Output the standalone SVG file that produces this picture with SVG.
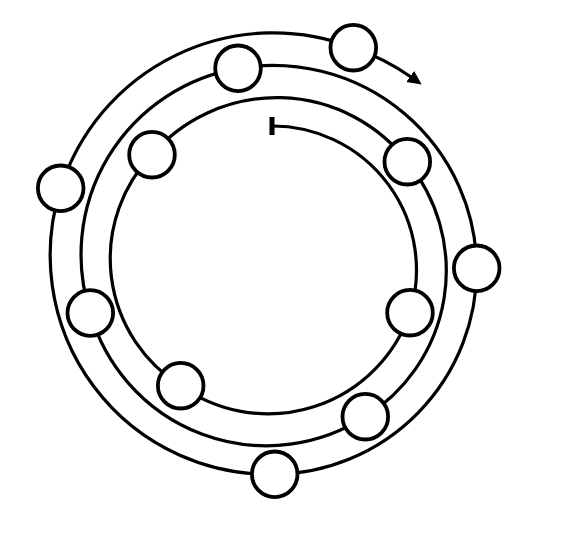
<svg xmlns="http://www.w3.org/2000/svg" width="576" height="541" viewBox="0 0 576 541">
<defs>
<marker id="bar" markerUnits="userSpaceOnUse" viewBox="-6 -12 12 24" markerWidth="12" markerHeight="24" refX="0" refY="0" orient="auto"><rect x="-2.5" y="-9" width="5" height="18" fill="#000"/></marker>
<marker id="arrow" markerUnits="userSpaceOnUse" viewBox="0 -8 16 16" markerWidth="16" markerHeight="16" refX="1" refY="0" orient="auto"><path d="M0,-6.8 L14,0 L0,6.8 Z" fill="#000"/></marker>
<style>
.ring{fill:none;stroke:#000;stroke-width:3.2}
.node circle{fill:#fff;stroke:#000;stroke-width:3.8}
</style>
</defs>
<rect width="576" height="541" fill="#fff"/>
<g id="connectors">
<path class="ring" marker-start="url(#bar)" marker-end="url(#arrow)" d="M272,126 A144,144 0 0 1 410,312.7 A150,150 0 0 1 180.7,385.7 A150,150 0 0 1 152,154.7 A165,165 0 0 1 407.3,161.7 A172,172 0 0 1 365.3,416.7 A183,183 0 0 1 90.3,313 A189,189 0 0 1 238,68.3 A204,204 0 0 1 476.7,268.3 A205,205 0 0 1 274.7,474.3 A219,219 0 0 1 60.7,188.3 A223,223 0 0 1 353.3,47.7 A228,228 0 0 1 411,77"/>
</g>
<g id="n1" class="node"><circle cx="410" cy="312.7" r="22.8"/></g>
<g id="n2" class="node"><circle cx="180.7" cy="385.7" r="22.8"/></g>
<g id="n3" class="node"><circle cx="152" cy="154.7" r="22.8"/></g>
<g id="n4" class="node"><circle cx="407.3" cy="161.7" r="22.8"/></g>
<g id="n5" class="node"><circle cx="365.3" cy="416.7" r="22.8"/></g>
<g id="n6" class="node"><circle cx="90.3" cy="313" r="22.8"/></g>
<g id="n7" class="node"><circle cx="238" cy="68.3" r="22.8"/></g>
<g id="n8" class="node"><circle cx="476.7" cy="268.3" r="22.8"/></g>
<g id="n9" class="node"><circle cx="274.7" cy="474.3" r="22.8"/></g>
<g id="n10" class="node"><circle cx="60.7" cy="188.3" r="22.8"/></g>
<g id="n11" class="node"><circle cx="353.3" cy="47.7" r="22.8"/></g>
</svg>
